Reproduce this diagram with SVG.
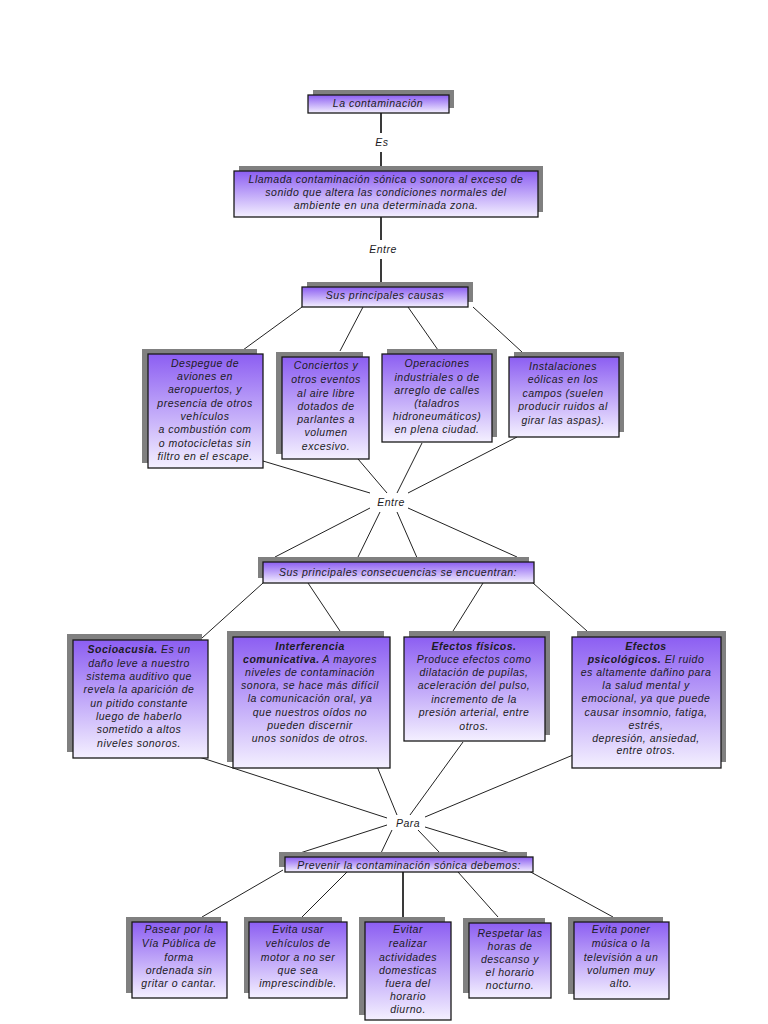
<svg xmlns="http://www.w3.org/2000/svg" width="768" height="1024" viewBox="0 0 768 1024">
<defs>
<linearGradient id="g" x1="0" y1="0" x2="0" y2="1">
<stop offset="0" stop-color="#8c5ef2"/>
<stop offset="1" stop-color="#f4f0ff"/>
</linearGradient>
<style>
.sh{fill:#808080}
.bx{fill:url(#g);stroke:#1a1a1a;stroke-width:1.3}
text{font-family:"Liberation Sans",Arial,sans-serif;font-style:italic;font-size:10.5px;letter-spacing:0.5px;fill:#1c1c24;text-anchor:middle}
.b{font-weight:bold}
.c{stroke:#222;stroke-width:1;fill:none}
.t{stroke:#3a3a3a;stroke-width:2;fill:none}
</style>
</defs>
<rect width="768" height="1024" fill="#fff"/>

<g id="connectors">
<line class="t" x1="381" y1="113" x2="381" y2="133"/>
<line class="t" x1="381" y1="152" x2="381" y2="166"/>
<line class="t" x1="381" y1="217" x2="381" y2="240"/>
<line class="t" x1="381" y1="259" x2="381" y2="282"/>
<line class="c" x1="302" y1="307" x2="243" y2="350"/>
<line class="c" x1="363" y1="307" x2="340" y2="351"/>
<line class="c" x1="408" y1="307" x2="438" y2="350"/>
<line class="c" x1="473" y1="307" x2="522" y2="352"/>
<line class="c" x1="263" y1="461" x2="370" y2="493"/>
<line class="c" x1="358" y1="459" x2="387" y2="493"/>
<line class="c" x1="422" y1="443" x2="397" y2="493"/>
<line class="c" x1="517" y1="437" x2="408" y2="493"/>
<line class="c" x1="370" y1="508" x2="275" y2="557"/>
<line class="c" x1="380" y1="512" x2="358" y2="557"/>
<line class="c" x1="397" y1="512" x2="418" y2="560"/>
<line class="c" x1="408" y1="508" x2="517" y2="557"/>
<line class="c" x1="263" y1="583" x2="202" y2="638"/>
<line class="c" x1="308" y1="583" x2="340" y2="631"/>
<line class="c" x1="483" y1="583" x2="453" y2="631"/>
<line class="c" x1="533" y1="583" x2="587" y2="631"/>
<line class="c" x1="193" y1="755" x2="387" y2="818"/>
<line class="c" x1="376" y1="764" x2="397" y2="815"/>
<line class="c" x1="463" y1="742" x2="410" y2="815"/>
<line class="c" x1="573" y1="755" x2="425" y2="817"/>
<line class="c" x1="387" y1="825" x2="300" y2="853"/>
<line class="c" x1="392" y1="830" x2="381" y2="853"/>
<line class="c" x1="418" y1="830" x2="440" y2="853"/>
<line class="c" x1="425" y1="827" x2="510" y2="853"/>
<line class="c" x1="283" y1="870" x2="202" y2="917"/>
<line class="c" x1="347" y1="872" x2="302" y2="917"/>
<line class="t" x1="403" y1="872" x2="403" y2="917"/>
<line class="c" x1="458" y1="872" x2="498" y2="917"/>
<line class="c" x1="527" y1="870" x2="613" y2="917"/>
<text x="382" y="146">Es</text>
<text x="383" y="253">Entre</text>
<text x="391" y="506">Entre</text>
<text x="408" y="827">Para</text>
</g>

<g id="n1">
<rect class="sh" x="313" y="90" width="141" height="18"/>
<rect class="bx" x="308" y="95" width="141" height="18"/>
<text x="378" y="107">La contaminación</text>
</g>

<g id="n2">
<rect class="sh" x="239" y="166" width="304" height="46"/>
<rect class="bx" x="234" y="171" width="304" height="46"/>
<text x="386" y="183">Llamada contaminación sónica o sonora al exceso de</text>
<text x="386" y="196">sonido que altera las condiciones normales del</text>
<text x="386" y="209">ambiente en una determinada zona.</text>
</g>

<g id="n3">
<rect class="sh" x="307" y="282" width="166" height="20"/>
<rect class="bx" x="302" y="287" width="166" height="20"/>
<text x="385" y="299">Sus principales causas</text>
</g>

<g id="n4">
<rect class="sh" x="142" y="349" width="115" height="114"/>
<rect class="bx" x="148" y="354" width="115" height="114"/>
<text x="205" y="367">Despegue de</text>
<text x="205" y="380">aviones en</text>
<text x="205" y="393">aeropuertos, y</text>
<text x="205" y="407">presencia de otros</text>
<text x="205" y="420">vehículos</text>
<text x="205" y="433">a combustión com</text>
<text x="205" y="447">o motocicletas sin</text>
<text x="205" y="460">filtro en el escape.</text>
</g>

<g id="n5">
<rect class="sh" x="276" y="352" width="87" height="102"/>
<rect class="bx" x="282" y="357" width="87" height="102"/>
<text x="326" y="369">Conciertos y</text>
<text x="326" y="383">otros eventos</text>
<text x="326" y="397">al aire libre</text>
<text x="326" y="410">dotados de</text>
<text x="326" y="423">parlantes a</text>
<text x="326" y="436">volumen</text>
<text x="326" y="450">excesivo.</text>
</g>

<g id="n6">
<rect class="sh" x="387" y="349" width="110" height="88"/>
<rect class="bx" x="382" y="354" width="110" height="88"/>
<text x="437" y="367">Operaciones</text>
<text x="437" y="381">industriales o de</text>
<text x="437" y="394">arreglo de calles</text>
<text x="437" y="407">(taladros</text>
<text x="437" y="420">hidroneumáticos)</text>
<text x="437" y="433">en plena ciudad.</text>
</g>

<g id="n7">
<rect class="sh" x="514" y="352" width="110" height="80"/>
<rect class="bx" x="509" y="357" width="110" height="80"/>
<text x="563" y="370">Instalaciones</text>
<text x="563" y="383">eólicas en los</text>
<text x="563" y="397">campos (suelen</text>
<text x="563" y="410">producir ruidos al</text>
<text x="563" y="424">girar las aspas).</text>
</g>

<g id="n8">
<rect class="sh" x="258" y="557" width="271" height="21"/>
<rect class="bx" x="263" y="562" width="271" height="21"/>
<text x="398" y="576">Sus principales consecuencias se encuentran:</text>
</g>

<g id="n9">
<rect class="sh" x="67" y="634" width="135" height="118"/>
<rect class="bx" x="73" y="640" width="135" height="118"/>
<text x="139" y="653"><tspan class="b">Socioacusia.</tspan> Es un</text>
<text x="139" y="667">daño leve a nuestro</text>
<text x="139" y="680">sistema auditivo que</text>
<text x="139" y="693">revela la aparición de</text>
<text x="139" y="707">un pitido constante</text>
<text x="139" y="720">luego de haberlo</text>
<text x="139" y="733">sometido a altos</text>
<text x="139" y="747">niveles sonoros.</text>
</g>

<g id="n10">
<rect class="sh" x="227" y="631" width="157" height="131"/>
<rect class="bx" x="233" y="637" width="157" height="131"/>
<text x="310" y="650" class="b">Interferencia</text>
<text x="310" y="663"><tspan class="b">comunicativa.</tspan>  A mayores</text>
<text x="310" y="676">niveles de contaminación</text>
<text x="310" y="689">sonora, se hace más difícil</text>
<text x="310" y="702">la comunicación oral, ya</text>
<text x="310" y="716">que nuestros oídos no</text>
<text x="310" y="729">pueden discernir</text>
<text x="310" y="742">unos sonidos de otros.</text>
</g>

<g id="n11">
<rect class="sh" x="409" y="631" width="141" height="104"/>
<rect class="bx" x="404" y="637" width="141" height="104"/>
<text x="474" y="650" class="b">Efectos físicos.</text>
<text x="474" y="663">Produce efectos como</text>
<text x="474" y="676">dilatación de pupilas,</text>
<text x="474" y="689">aceleración del pulso,</text>
<text x="474" y="703">incremento de la</text>
<text x="474" y="716">presión arterial, entre</text>
<text x="474" y="730">otros.</text>
</g>

<g id="n12">
<rect class="sh" x="577" y="631" width="149" height="131"/>
<rect class="bx" x="572" y="637" width="149" height="131"/>
<text x="646" y="650" class="b">Efectos</text>
<text x="646" y="663"><tspan class="b">psicológicos.</tspan>  El ruido</text>
<text x="646" y="676">es altamente dañino para</text>
<text x="646" y="689">la salud mental y</text>
<text x="646" y="702">emocional, ya que puede</text>
<text x="646" y="716">causar insomnio, fatiga,</text>
<text x="646" y="729">estrés,</text>
<text x="646" y="742">depresión,  ansiedad,</text>
<text x="646" y="754">entre otros.</text>
</g>

<g id="n13">
<rect class="sh" x="279" y="852" width="248" height="15"/>
<rect class="bx" x="285" y="857" width="248" height="15"/>
<text x="409" y="869">Prevenir la contaminación sónica debemos:</text>
</g>

<g id="n14">
<rect class="sh" x="126" y="917" width="95" height="76"/>
<rect class="bx" x="132" y="922" width="95" height="76"/>
<text x="179" y="933">Pasear por la</text>
<text x="179" y="947">Vía Pública de</text>
<text x="179" y="961">forma</text>
<text x="179" y="974">ordenada sin</text>
<text x="179" y="987">gritar o cantar.</text>
</g>

<g id="n15">
<rect class="sh" x="244" y="917" width="98" height="76"/>
<rect class="bx" x="249" y="922" width="98" height="76"/>
<text x="298" y="933">Evita usar</text>
<text x="298" y="947">vehículos de</text>
<text x="298" y="961">motor a no ser</text>
<text x="298" y="974">que sea</text>
<text x="298" y="987">imprescindible.</text>
</g>

<g id="n16">
<rect class="sh" x="359" y="917" width="86" height="98"/>
<rect class="bx" x="365" y="922" width="86" height="98"/>
<text x="408" y="933">Evitar</text>
<text x="408" y="947">realizar</text>
<text x="408" y="961">actividades</text>
<text x="408" y="974">domesticas</text>
<text x="408" y="987">fuera del</text>
<text x="408" y="1000">horario</text>
<text x="408" y="1013">diurno.</text>
</g>

<g id="n17">
<rect class="sh" x="463" y="918" width="82" height="75"/>
<rect class="bx" x="469" y="923" width="82" height="75"/>
<text x="510" y="937">Respetar las</text>
<text x="510" y="950">horas de</text>
<text x="510" y="963">descanso y</text>
<text x="510" y="976">el horario</text>
<text x="510" y="989">nocturno.</text>
</g>

<g id="n18">
<rect class="sh" x="568" y="917" width="95" height="77"/>
<rect class="bx" x="574" y="922" width="95" height="77"/>
<text x="621" y="933">Evita poner</text>
<text x="621" y="947">música o la</text>
<text x="621" y="961">televisión a un</text>
<text x="621" y="974">volumen muy</text>
<text x="621" y="987">alto.</text>
</g>
</svg>
